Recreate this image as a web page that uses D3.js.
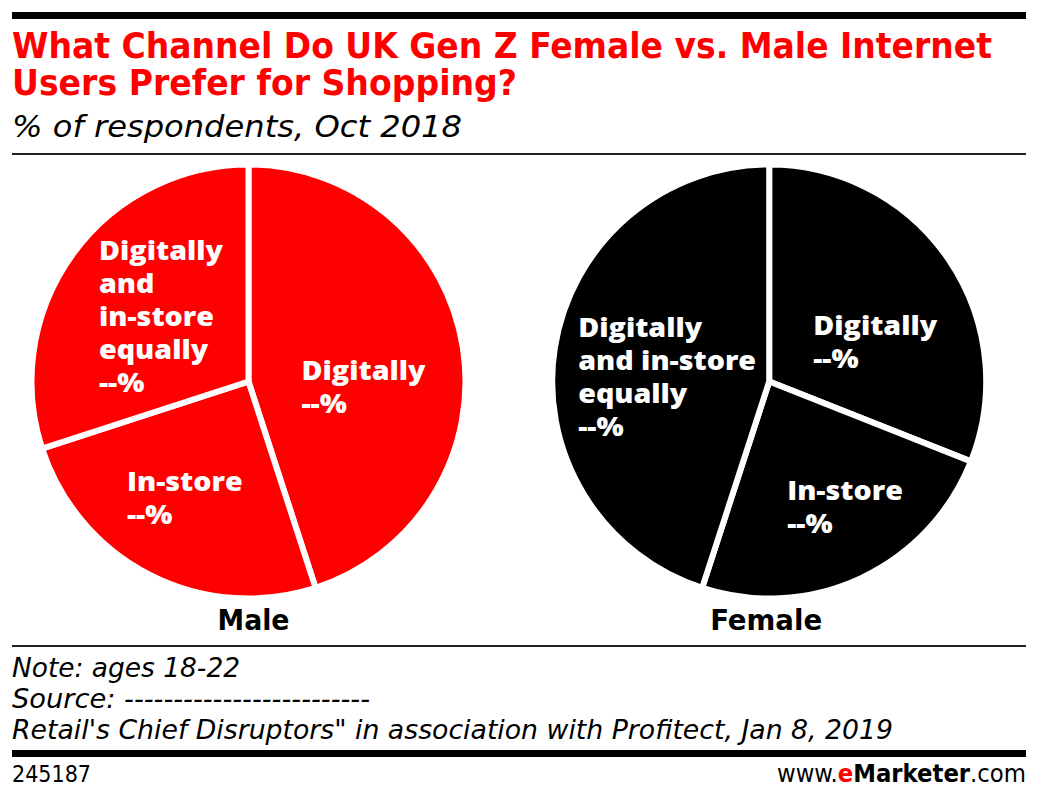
<!DOCTYPE html>
<html>
<head>
<meta charset="utf-8">
<script src="https://cdn.jsdelivr.net/npm/d3@7"></script>
<style>
  html, body { margin: 0; padding: 0; background: #fff; }
  svg { display: block; }
</style>
</head>
<body>
<svg id="chart" width="1038" height="801"></svg>
<script>
// ---- data ----
const categories = ["Digitally", "In-store", "Digitally and in-store equally"];
const groups = ["Male", "Female"];
const maleValues = [45, 25, 30];
const femaleValues = [31, 24, 45];
const valueLabel = "--%";
const maleLabelLines = [["Digitally"], ["In-store"], ["Digitally", "and", "in-store", "equally"]];
const femaleLabelLines = [["Digitally"], ["In-store"], ["Digitally", "and in-store", "equally"]];
const titleLines = ["What Channel Do UK Gen Z Female vs. Male Internet", "Users Prefer for Shopping?"];
const subtitle = "% of respondents, Oct 2018";
const noteLines = ["Note: ages 18-22", "Source: -------------------------", "Retail's Chief Disruptors\" in association with Profitect, Jan 8, 2019"];
const chartId = "245187";

// ---- layout ----
const svg = d3.select("#chart");
const condensed = "'Liberation Sans Narrow', 'DejaVu Sans Condensed', 'Roboto Condensed', Roboto, sans-serif";
const labelFont = "'Open Sans', 'Noto Sans', sans-serif";

// top bar
svg.append("rect").attr("x", 12).attr("y", 12).attr("width", 1014).attr("height", 7).attr("fill", "#000");

// title
const titleBase = [58, 95];
const titleWidths = [980, 505];
titleLines.forEach((t, i) => {
  svg.append("text").attr("x", 12).attr("y", titleBase[i])
    .attr("font-family", condensed).attr("font-weight", 700).attr("font-size", 36)
    .attr("fill", "#ff0000")
    .attr("textLength", titleWidths[i]).attr("lengthAdjust", "spacingAndGlyphs")
    .text(t);
});
svg.append("text").attr("x", 12).attr("y", 137)
  .attr("font-family", condensed).attr("font-style", "italic").attr("font-size", 31)
  .attr("fill", "#000")
  .attr("textLength", 450).attr("lengthAdjust", "spacingAndGlyphs")
  .text(subtitle);

svg.append("rect").attr("x", 12).attr("y", 153).attr("width", 1014).attr("height", 2).attr("fill", "#222");

// pies
const R = 214;
const cy = 381.5;
const sep = 6;
const cxScale = d3.scalePoint().domain(groups).range([248.5, 769.2]);
const colors = { Male: "#ff0000", Female: "#000000" };
const pie = d3.pie().sort(null).value(d => d.value);
const arc = d3.arc().innerRadius(0).outerRadius(R + sep / 2);

// label anchor offsets from pie center (layout)
const labelOffsets = {
  Male: [[53, -1.5], [-121.5, 109.5], [-149.5, -121.5]],
  Female: [[44, -47], [18, 118], [-191, -45]]
};
const lineH = 33;
const labelSize = 26.5;

// measure horizontal scale so that "Digitally" is ~124px wide
const probe = svg.append("text").attr("font-family", labelFont).attr("font-weight", 800)
  .attr("font-size", labelSize).text("Digitally");
const stretch = 124 / probe.node().getComputedTextLength();
probe.remove();

groups.forEach(g => {
  const vals = g === "Male" ? maleValues : femaleValues;
  const lines = g === "Male" ? maleLabelLines : femaleLabelLines;
  const data = categories.map((c, i) => ({ cat: c, value: vals[i], lines: lines[i] }));
  const cx = cxScale(g);
  const gp = svg.append("g").attr("transform", `translate(${cx},${cy})`);
  const arcs = pie(data);
  gp.selectAll("path").data(arcs).join("path")
    .attr("d", arc)
    .attr("fill", colors[g])
    .attr("stroke", "#fff").attr("stroke-width", sep).attr("stroke-linejoin", "miter");

  arcs.forEach((a, i) => {
    const [dx, dy] = labelOffsets[g][i];
    const all = a.data.lines.concat([valueLabel]);
    all.forEach((l, k) => {
      const t = gp.append("text")
        .attr("x", dx).attr("y", dy + k * lineH)
        .attr("font-family", labelFont).attr("font-weight", 800).attr("font-size", labelSize)
        .attr("fill", "#fff").text(l);
      const w = t.node().getComputedTextLength();
      t.attr("textLength", w * stretch).attr("lengthAdjust", "spacingAndGlyphs");
    });
  });

  svg.append("text").attr("x", g === "Male" ? cx + 5 : cx - 3).attr("y", 630)
    .attr("text-anchor", "middle")
    .attr("font-family", condensed).attr("font-weight", 700).attr("font-size", 29)
    .attr("fill", "#000")
    .attr("textLength", g === "Male" ? 72 : 112).attr("lengthAdjust", "spacingAndGlyphs")
    .text(g);
});

svg.append("rect").attr("x", 12).attr("y", 645).attr("width", 1014).attr("height", 2).attr("fill", "#222");

// notes
const noteBase = [677, 708, 739];
const noteWidths = [228, 358, 881];
noteLines.forEach((t, i) => {
  svg.append("text").attr("x", 12).attr("y", noteBase[i])
    .attr("font-family", condensed).attr("font-style", "italic").attr("font-size", 27)
    .attr("fill", "#000")
    .attr("textLength", noteWidths[i]).attr("lengthAdjust", "spacingAndGlyphs")
    .text(t);
});

svg.append("rect").attr("x", 12).attr("y", 750).attr("width", 1014).attr("height", 7).attr("fill", "#000");

svg.append("text").attr("x", 12).attr("y", 782)
  .attr("font-family", condensed).attr("font-size", 23).attr("fill", "#000")
  .attr("textLength", 79).attr("lengthAdjust", "spacingAndGlyphs")
  .text(chartId);

const brand = svg.append("text").attr("x", 1026).attr("y", 782).attr("text-anchor", "end")
  .attr("font-family", condensed).attr("font-size", 24).attr("fill", "#000")
  .attr("textLength", 249).attr("lengthAdjust", "spacingAndGlyphs");
brand.append("tspan").text("www.");
brand.append("tspan").attr("font-weight", 700).attr("fill", "#ff0000").text("e");
brand.append("tspan").attr("font-weight", 700).text("Marketer");
brand.append("tspan").text(".com");
</script>
</body>
</html>
